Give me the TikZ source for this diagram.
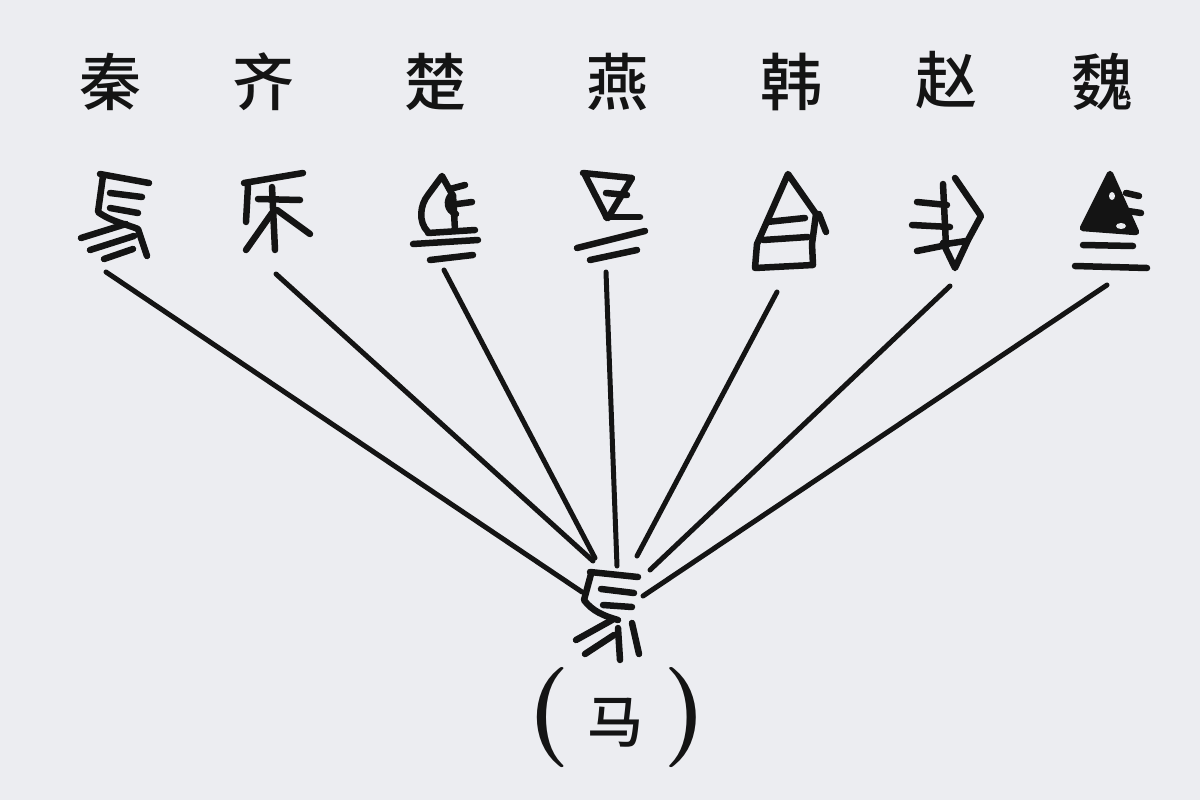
\documentclass[tikz,border=0pt]{standalone}
\usepackage{fontspec}
\newfontfamily\cjk{Noto Sans CJK SC Medium}
\definecolor{bg}{RGB}{236,237,241}
\definecolor{ink}{RGB}{20,20,20}
\tikzset{
  stroke/.style={draw=ink, line width=6.5pt, line cap=round, line join=round},
  connector/.style={draw=ink, line width=5pt, line cap=round},
  state/.style={font=\cjk\fontsize{62}{62}\selectfont, text=ink, inner sep=0pt},
  paren/.style={font=\bfseries\fontsize{100}{100}\selectfont, text=ink, inner sep=0pt},
}
\begin{document}
\begin{tikzpicture}[x=1pt,y=-1pt]
\useasboundingbox (0,0) rectangle (1200,800);
\fill[bg] (0,0) rectangle (1200,800);

% modern names of the states
\node[state] (qin)  at (110,82) {秦};
\node[state] (qi)   at (263,82) {齐};
\node[state] (chu)  at (435,82) {楚};
\node[state] (yan)  at (617,82) {燕};
\node[state] (han)  at (791,82) {韩};
\node[state] (zhao) at (946,80) {赵};
\node[state] (wei)  at (1102,82) {魏};

% glyph 1 (Qin)
\draw[stroke] (100,174) -- (149,183);
\draw[stroke] (103,176) -- (98,212) .. controls (112,222) and (126,224) .. (138,229) -- (147,256);
\draw[stroke] (110,193) -- (142,197);
\draw[stroke] (110,208) -- (138,213);
\draw[stroke] (81,238) -- (126,224);
\draw[stroke] (90,250) -- (134,236);
\draw[stroke] (104,259) -- (133,249);

% glyph 2 (Qi)
\draw[stroke] (244,183) -- (303,173);
\draw[stroke] (248,186) -- (246,222);
\draw[stroke] (258,199) -- (300,200);
\draw[stroke] (272,187) -- (275,250);
\draw[stroke] (272,213) -- (246,250);
\draw[stroke] (277,210) -- (310,234);

% glyph 3 (Chu)
\draw[stroke] (428,232) .. controls (418,222) and (420,205) .. (428,195) -- (442,176) -- (452,194)
  .. controls (446,200) and (446,210) .. (456,214);
\draw[stroke] (450,189) -- (465,185);
\draw[stroke] (450,205) -- (472,202);
\draw[stroke] (453,195) -- (455,230);
\draw[stroke] (428,233) -- (475,230);
\draw[stroke] (413,244) -- (478,240);
\draw[stroke] (430,260) -- (473,255);

% glyph 4 (Yan)
\draw[stroke] (585,175) -- (607,218);
\draw[stroke] (583,173) -- (632,178) -- (608,218);
\draw[stroke] (606,193) -- (627,195);
\draw[stroke] (606,217) -- (640,217);
\draw[stroke] (577,248) -- (645,231);
\draw[stroke] (590,260) -- (637,250);

% glyph 5 (Han)
\draw[stroke] (788,174) -- (757,244) -- (755,268) -- (813,265) -- (812,244) -- (816,214) -- cycle;
\draw[stroke] (767,222) -- (805,218);
\draw[stroke] (763,240) -- (808,237);
\draw[stroke] (819,214) -- (826,232);

% glyph 6 (Zhao)
\draw[stroke] (917,202) -- (947,205);
\draw[stroke] (912,225) -- (950,227);
\draw[stroke] (917,251) -- (947,245);
\draw[stroke] (943,184) -- (946,246);
\draw[stroke] (955,178) -- (981,216) -- (968,240) -- (955,268) -- (943,243);
\draw[stroke] (946,244) -- (966,241);

% glyph 7 (Wei)
\draw[stroke, fill=ink] (1110,174) -- (1083,228) -- (1136,232) -- cycle;
\fill[bg] (1112,196) ellipse (3pt and 4pt);
\fill[bg] (1121,226) ellipse (5pt and 3pt);
\draw[stroke] (1126,193) -- (1139,196);
\draw[stroke] (1128,211) -- (1141,213);
\draw[stroke] (1083,245) -- (1133,246);
\draw[stroke] (1075,266) -- (1147,268);

% central glyph (ma)
\draw[stroke] (590,572) -- (638,577);
\draw[stroke] (591,574) -- (584,600) .. controls (592,611) and (604,616) .. (618,620);
\draw[stroke] (601,589) -- (634,593);
\draw[stroke] (603,605) -- (632,607);
\draw[stroke] (576,640) -- (612,620);
\draw[stroke] (585,654) -- (614,635);
\draw[stroke] (618,628) -- (620,660);
\draw[stroke] (632,623) -- (639,654);

% connectors
\coordinate (s1) at (106,272);  \coordinate (e1) at (582,592);
\coordinate (s2) at (276,274);  \coordinate (e2) at (593,561);
\coordinate (s3) at (444,270);  \coordinate (e3) at (595,558);
\coordinate (s4) at (606,272);  \coordinate (e4) at (617,566);
\coordinate (s5) at (777,292);  \coordinate (e5) at (637,556);
\coordinate (s6) at (950,286);  \coordinate (e6) at (650,570);
\coordinate (s7) at (1107,285); \coordinate (e7) at (643,596);
\foreach \i in {1,...,7} {\draw[connector] (s\i) -- (e\i);}

% (ma)
\node[paren] (lp) at (548,718) {(};
\node[state, font=\cjk\fontsize{56}{56}\selectfont] (ma) at (615,723) {马};
\node[paren] (rp) at (685,718) {)};
\end{tikzpicture}
\end{document}
